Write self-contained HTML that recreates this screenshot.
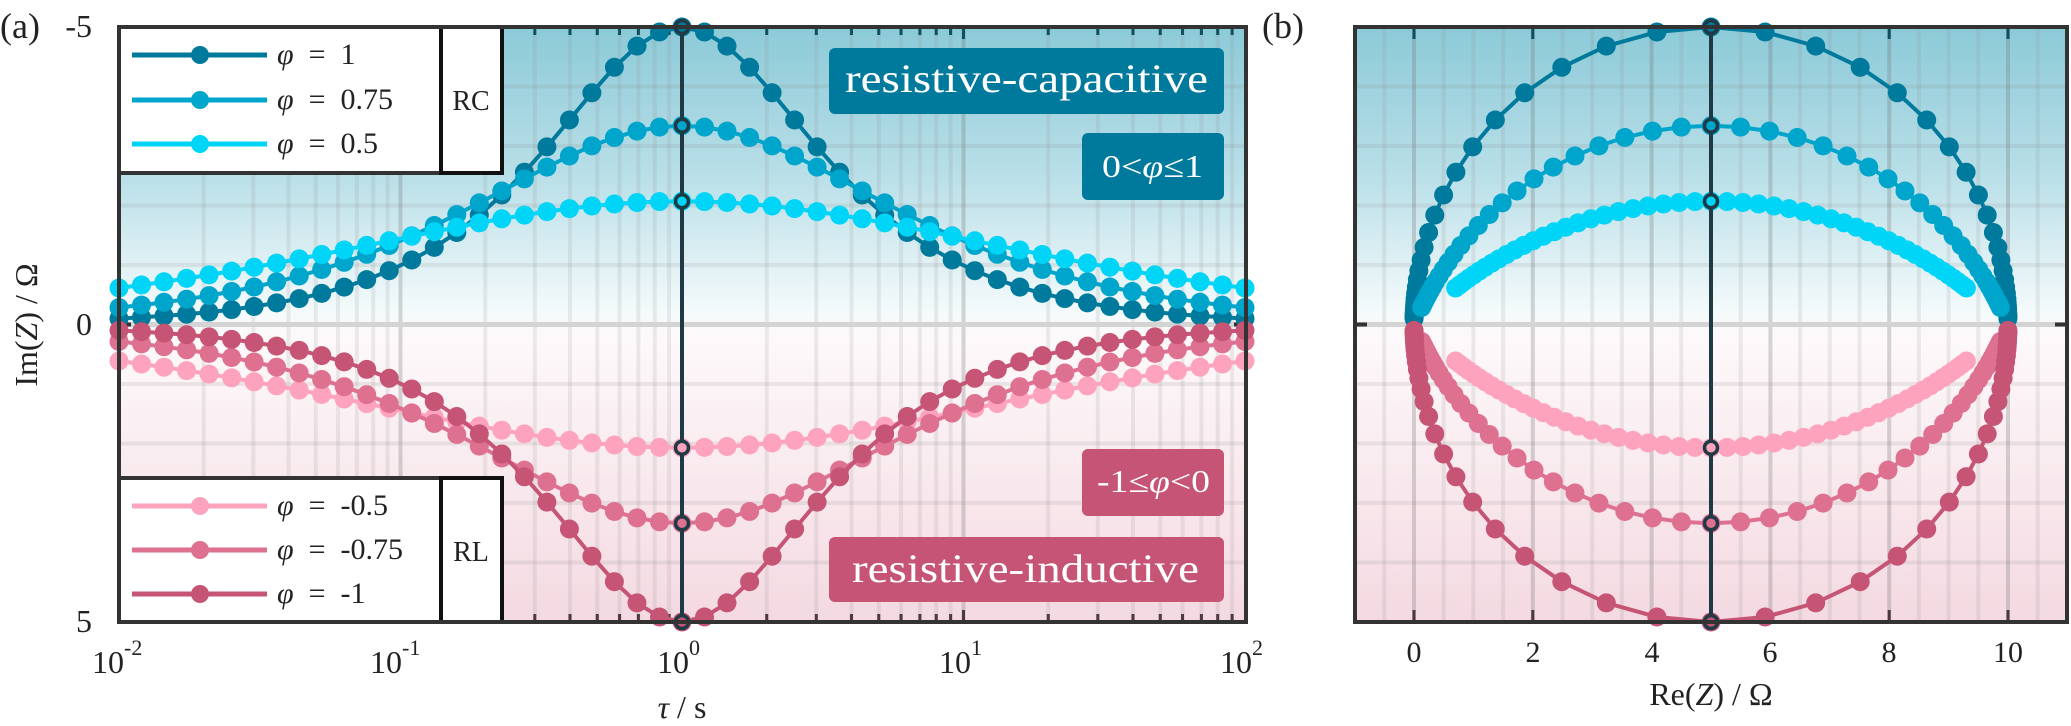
<!DOCTYPE html>
<html><head><meta charset="utf-8">
<style>
html,body{margin:0;padding:0;background:#fff;}
svg{display:block;font-family:"Liberation Serif","DejaVu Serif",serif;}
text{font-family:"Liberation Serif","DejaVu Serif",serif;fill:#222;}
</style></head>
<body>
<svg id="s" width="2071" height="726" viewBox="0 0 2071 726" xmlns="http://www.w3.org/2000/svg" font-family="Liberation Serif, DejaVu Serif, serif">
<defs>
<linearGradient id="bg" x1="0" y1="27" x2="0" y2="622" gradientUnits="userSpaceOnUse">
<stop offset="0" stop-color="#8ccad8"/>
<stop offset="0.25" stop-color="#b9dfe8"/>
<stop offset="0.48" stop-color="#f4fafb"/>
<stop offset="0.52" stop-color="#fdf9fa"/>
<stop offset="1" stop-color="#f4d9e1"/>
</linearGradient>
</defs>
<rect x="119" y="27" width="1127" height="595" fill="url(#bg)"/>
<rect x="1355" y="27" width="712" height="595" fill="url(#bg)"/>
<g id="grid"></g>
<g id="data"></g>
<g id="over"></g>

<!-- legends -->
<rect x="119" y="27" width="322" height="146" fill="#fff" stroke="#333" stroke-width="4"/>
<rect x="441" y="27" width="61" height="146" fill="#fff" stroke="#111" stroke-width="4"/>
<rect x="119" y="478" width="322" height="144" fill="#fff" stroke="#333" stroke-width="4"/>
<rect x="441" y="478" width="61" height="144" fill="#fff" stroke="#111" stroke-width="4"/>
<g stroke-width="5">
<line x1="132" y1="55" x2="267" y2="55" stroke="#007a9c"/><circle cx="200" cy="55" r="9" fill="#007a9c"/>
<line x1="132" y1="100" x2="267" y2="100" stroke="#00a5cc"/><circle cx="200" cy="100" r="9" fill="#00a5cc"/>
<line x1="132" y1="144" x2="267" y2="144" stroke="#00d4f7"/><circle cx="200" cy="144" r="9" fill="#00d4f7"/>
<line x1="132" y1="506" x2="267" y2="506" stroke="#fda3bd"/><circle cx="200" cy="506" r="9" fill="#fda3bd"/>
<line x1="132" y1="550" x2="267" y2="550" stroke="#de7090"/><circle cx="200" cy="550" r="9" fill="#de7090"/>
<line x1="132" y1="594" x2="267" y2="594" stroke="#c55475"/><circle cx="200" cy="594" r="9" fill="#c55475"/>
</g>
<g font-size="30">
<text x="277" y="64" xml:space="preserve"><tspan font-style="italic">φ</tspan>  =  1</text>
<text x="277" y="109" xml:space="preserve"><tspan font-style="italic">φ</tspan>  =  0.75</text>
<text x="277" y="153" xml:space="preserve"><tspan font-style="italic">φ</tspan>  =  0.5</text>
<text x="277" y="515" xml:space="preserve"><tspan font-style="italic">φ</tspan>  =  -0.5</text>
<text x="277" y="559" xml:space="preserve"><tspan font-style="italic">φ</tspan>  =  -0.75</text>
<text x="277" y="603" xml:space="preserve"><tspan font-style="italic">φ</tspan>  =  -1</text>
<text x="471" y="110" text-anchor="middle" font-size="28">RC</text>
<text x="471" y="561" text-anchor="middle" font-size="28">RL</text>
</g>

<!-- annotation boxes -->
<rect x="829" y="48" width="395" height="66" rx="6" fill="#007a9c"/>
<text x="845" y="92" font-size="40" style="fill:#fff" textLength="363" lengthAdjust="spacingAndGlyphs">resistive-capacitive</text>
<rect x="1082" y="133" width="142" height="67" rx="6" fill="#007a9c"/>
<text x="1102" y="177" font-size="32" style="fill:#fff" textLength="101" lengthAdjust="spacingAndGlyphs">0&lt;<tspan font-style="italic">φ</tspan>≤1</text>
<rect x="1082" y="449" width="142" height="67" rx="6" fill="#c55475"/>
<text x="1097" y="492" font-size="32" style="fill:#fff" textLength="113" lengthAdjust="spacingAndGlyphs">-1≤<tspan font-style="italic">φ</tspan>&lt;0</text>
<rect x="829" y="537" width="395" height="65" rx="6" fill="#c55475"/>
<text x="852" y="582" font-size="40" style="fill:#fff" textLength="347" lengthAdjust="spacingAndGlyphs">resistive-inductive</text>

<!-- axes borders -->
<rect x="119" y="27" width="1127" height="595" fill="none" stroke="#333" stroke-width="4"/>
<rect x="1355" y="27" width="712" height="595" fill="none" stroke="#333" stroke-width="4"/>

<!-- labels -->
<text x="0" y="38" font-size="36">(a)</text>
<text x="1262" y="38" font-size="36">(b)</text>
<g font-size="32">
<text x="92" y="37" text-anchor="end">-5</text>
<text x="92" y="335" text-anchor="end">0</text>
<text x="92" y="632" text-anchor="end">5</text>
<text x="92" y="673">10<tspan dy="-18" font-size="22">-2</tspan></text>
<text x="370" y="673">10<tspan dy="-18" font-size="22">-1</tspan></text>
<text x="657" y="673">10<tspan dy="-18" font-size="22">0</tspan></text>
<text x="939" y="673">10<tspan dy="-18" font-size="22">1</tspan></text>
<text x="1220" y="673">10<tspan dy="-18" font-size="22">2</tspan></text>
<text x="682" y="718" text-anchor="middle" xml:space="preserve"><tspan font-style="italic">τ</tspan> / s</text>
<text transform="translate(37,325) rotate(-90)" text-anchor="middle">Im(<tspan font-style="italic">Z</tspan>) / Ω</text>
</g>
<g font-size="30" text-anchor="middle">
<text x="1414" y="662">0</text>
<text x="1533" y="662">2</text>
<text x="1652" y="662">4</text>
<text x="1770" y="662">6</text>
<text x="1889" y="662">8</text>
<text x="2008" y="662">10</text>
<text x="1711" y="705" font-size="32">Re(<tspan font-style="italic">Z</tspan>) / Ω</text>
</g>
</svg>
<script>
(function(){
var NS="http://www.w3.org/2000/svg";
function el(p,t,a){var e=document.createElementNS(NS,t);for(var k in a)e.setAttribute(k,a[k]);p.appendChild(e);return e;}
var grid=document.getElementById("grid"),data=document.getElementById("data"),over=document.getElementById("over");
function XA(t){return 119+(Math.log10(t)+2)*281.5;}
function XB(r){return 1414+r*59.4;}
function Y(i){return 324.5+i*59.5;}
for(var d=-2;d<2;d++){for(var m=1;m<10;m++){var x=XA(m*Math.pow(10,d));
 el(grid,"line",{x1:x,y1:27,x2:x,y2:622,stroke:m==1?"rgba(110,110,110,0.28)":"rgba(140,140,140,0.16)","stroke-width":4});
 el(grid,"line",{x1:x,y1:622,x2:x,y2:m==1?610:614,stroke:"#4a3a40","stroke-width":3});
 el(grid,"line",{x1:x,y1:27,x2:x,y2:m==1?39:35,stroke:"#0f4f60","stroke-width":3});}}
for(var i=-4;i<=4;i++){if(i==0)continue;
 el(grid,"line",{x1:119,y1:Y(i),x2:1246,y2:Y(i),stroke:"rgba(140,140,140,0.16)","stroke-width":4});
 el(grid,"line",{x1:1355,y1:Y(i),x2:2067,y2:Y(i),stroke:"rgba(140,140,140,0.16)","stroke-width":4});}
for(var r=-0.5;r<=10.5;r+=0.5){var x=XB(r);var maj=(Math.abs(r%2)<1e-9);
 el(grid,"line",{x1:x,y1:27,x2:x,y2:622,stroke:maj?"rgba(110,110,110,0.28)":"rgba(140,140,140,0.16)","stroke-width":4});
 if(maj){el(grid,"line",{x1:x,y1:27,x2:x,y2:39,stroke:"#0f4f60","stroke-width":3});
 el(grid,"line",{x1:x,y1:622,x2:x,y2:610,stroke:"#4a3a40","stroke-width":3});}}
el(grid,"line",{x1:119,y1:324.5,x2:1246,y2:324.5,stroke:"#d4d4d4","stroke-width":5});
el(grid,"line",{x1:1355,y1:324.5,x2:2067,y2:324.5,stroke:"#d4d4d4","stroke-width":5});
el(grid,"line",{x1:119,y1:324.5,x2:131,y2:324.5,stroke:"#333","stroke-width":4});
el(grid,"line",{x1:1234,y1:324.5,x2:1246,y2:324.5,stroke:"#333","stroke-width":4});
el(grid,"line",{x1:1355,y1:324.5,x2:1367,y2:324.5,stroke:"#333","stroke-width":4});
el(grid,"line",{x1:2055,y1:324.5,x2:2067,y2:324.5,stroke:"#333","stroke-width":4});
var S=[[1,"#007a9c"],[0.75,"#00a5cc"],[0.5,"#00d4f7"],[-0.5,"#fda3bd"],[-0.75,"#de7090"],[-1,"#c55475"]];
var R=10;
function Z(x,p){var a=Math.pow(x,p),c=Math.cos(Math.PI*p/2),s=Math.sin(Math.PI*p/2);var den=1+2*a*c+a*a;return [R*(1+a*c)/den,-R*a*s/den];}
S.forEach(function(sp){var p=sp[0],col=sp[1];var pa=[],pb=[];
 for(var k=0;k<=50;k++){var t=Math.pow(10,-2+k*0.08);var z=Z(t,p);pa.push([XA(t),Y(z[1])]);pb.push([XB(z[0]),Y(z[1])]);}
 [pa,pb].forEach(function(pts){
  el(data,"polyline",{points:pts.map(function(q){return q[0].toFixed(1)+","+q[1].toFixed(1);}).join(" "),fill:"none",stroke:col,"stroke-width":4});
  pts.forEach(function(q){el(data,"circle",{cx:q[0].toFixed(1),cy:q[1].toFixed(1),r:9.5,fill:col});});});
});
el(over,"line",{x1:XA(1),y1:27,x2:XA(1),y2:622,stroke:"#1f3a44","stroke-width":4});
el(over,"line",{x1:XB(5),y1:27,x2:XB(5),y2:622,stroke:"#1f3a44","stroke-width":4});
S.forEach(function(sp){var z=Z(1,sp[0]);
 el(over,"circle",{cx:XA(1),cy:Y(z[1]),r:6.5,fill:sp[1],stroke:"#1f3a44","stroke-width":3.5});
 el(over,"circle",{cx:XB(z[0]),cy:Y(z[1]),r:6.5,fill:sp[1],stroke:"#1f3a44","stroke-width":3.5});});
})();
</script>
</body></html>
